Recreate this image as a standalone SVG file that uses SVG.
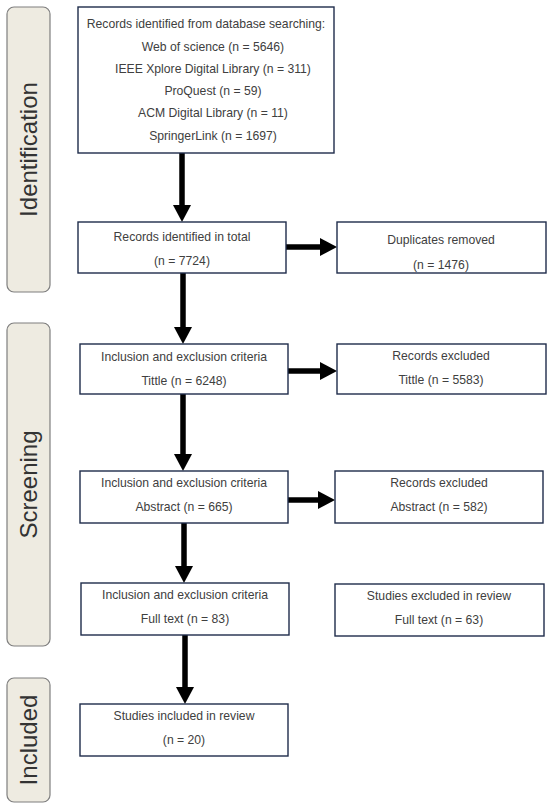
<svg xmlns="http://www.w3.org/2000/svg" width="550" height="807" viewBox="0 0 550 807">
<style>
.box{fill:#ffffff;stroke:#1f2c4a;stroke-width:1.4}
.phase{fill:#eeebe1;stroke:#7f7f7f;stroke-width:1.2}
.t{font-family:"Liberation Sans",Arial,sans-serif;font-size:12.2px;fill:#404040;text-anchor:middle}
.pt{font-family:"Liberation Sans",Arial,sans-serif;font-size:24px;fill:#333333;text-anchor:middle}
.c{stroke:#000;stroke-width:5.5;fill:none}
</style>
<defs>
<marker id="ah" markerWidth="17" markerHeight="18" refX="0" refY="9" orient="auto" markerUnits="userSpaceOnUse">
<path d="M0,0 L17,9 L0,18 z" fill="#000"/>
</marker>
</defs>
<rect width="550" height="807" fill="#ffffff"/>
<g id="phase-identification">
<rect class="phase" x="7" y="7" width="43" height="285" rx="7"/>
<text class="pt" transform="translate(37,149.5) rotate(-90)">Identification</text>
</g>
<g id="phase-screening">
<rect class="phase" x="7" y="323" width="43" height="323" rx="7"/>
<text class="pt" transform="translate(37,484.5) rotate(-90)">Screening</text>
</g>
<g id="phase-included">
<rect class="phase" x="7" y="678" width="43" height="124" rx="7"/>
<text class="pt" transform="translate(37,740) rotate(-90)">Included</text>
</g>
<g id="connectors">
<line class="c" x1="182" y1="153" x2="182" y2="205" marker-end="url(#ah)"/>
<line class="c" x1="183" y1="273" x2="183" y2="327" marker-end="url(#ah)"/>
<line class="c" x1="183" y1="394" x2="183" y2="454" marker-end="url(#ah)"/>
<line class="c" x1="184" y1="523" x2="184" y2="566" marker-end="url(#ah)"/>
<line class="c" x1="185" y1="635" x2="185" y2="687" marker-end="url(#ah)"/>
<line class="c" x1="286" y1="247" x2="320" y2="247" marker-end="url(#ah)"/>
<line class="c" x1="288" y1="371" x2="320" y2="371" marker-end="url(#ah)"/>
<line class="c" x1="288" y1="500" x2="318" y2="500" marker-end="url(#ah)"/>
</g>
<g id="n-search">
<rect class="box" x="78" y="7" width="256" height="146"/>
<text class="t" x="206" y="28">Records identified from database searching:</text>
<text class="t" x="213" y="51">Web of science (n = 5646)</text>
<text class="t" x="213" y="73">IEEE Xplore Digital Library (n = 311)</text>
<text class="t" x="213" y="95">ProQuest (n = 59)</text>
<text class="t" x="213" y="117">ACM Digital Library (n = 11)</text>
<text class="t" x="213" y="140">SpringerLink (n = 1697)</text>
</g>
<g id="n-total">
<rect class="box" x="78" y="222" width="208" height="51"/>
<text class="t" x="182" y="241">Records identified in total</text>
<text class="t" x="182" y="265">(n = 7724)</text>
</g>
<g id="n-duplicates">
<rect class="box" x="337" y="222" width="209" height="51"/>
<text class="t" x="441" y="244">Duplicates removed</text>
<text class="t" x="441" y="269">(n = 1476)</text>
</g>
<g id="n-title">
<rect class="box" x="80" y="344" width="208" height="50"/>
<text class="t" x="184" y="361">Inclusion and exclusion criteria</text>
<text class="t" x="184" y="385">Tittle (n = 6248)</text>
</g>
<g id="n-title-excluded">
<rect class="box" x="337" y="344" width="209" height="50"/>
<text class="t" x="441" y="360">Records excluded</text>
<text class="t" x="441" y="384">Tittle (n = 5583)</text>
</g>
<g id="n-abstract">
<rect class="box" x="80" y="471" width="208" height="52"/>
<text class="t" x="184" y="487">Inclusion and exclusion criteria</text>
<text class="t" x="184" y="511">Abstract (n = 665)</text>
</g>
<g id="n-abstract-excluded">
<rect class="box" x="335" y="471" width="208" height="52"/>
<text class="t" x="439" y="487">Records excluded</text>
<text class="t" x="439" y="511">Abstract (n = 582)</text>
</g>
<g id="n-fulltext">
<rect class="box" x="81" y="583" width="208" height="52"/>
<text class="t" x="185" y="599">Inclusion and exclusion criteria</text>
<text class="t" x="185" y="623">Full text (n = 83)</text>
</g>
<g id="n-fulltext-excluded">
<rect class="box" x="335" y="584" width="209" height="52"/>
<text class="t" x="439" y="600">Studies excluded in review</text>
<text class="t" x="439" y="624">Full text (n = 63)</text>
</g>
<g id="n-included">
<rect class="box" x="80" y="704" width="208" height="52"/>
<text class="t" x="184" y="720">Studies included in review</text>
<text class="t" x="184" y="744">(n = 20)</text>
</g>
</svg>
